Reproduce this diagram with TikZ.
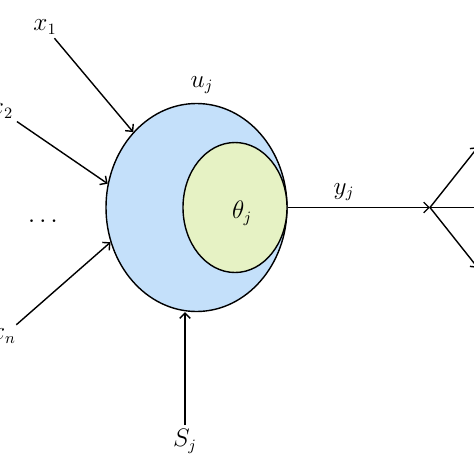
\documentclass[tikz,border=0pt]{standalone}
\usepackage{amsmath}
\usepackage{amssymb}
\usetikzlibrary{shapes.geometric,arrows.meta}
\definecolor{somablue}{RGB}{196,224,250}
\definecolor{threshgreen}{RGB}{230,242,196}

\begin{document}
\begin{tikzpicture}[scale=0.2]
\tikzstyle{every node}+=[inner sep=0pt, font=\fontsize{13.5}{15}\selectfont]
\tikzstyle{lbl}=[inner sep=2pt]
\tikzstyle{syn}=[black, line width=0.8pt, -{Straight Barb[length=3pt,width=6pt]}]
\useasboundingbox (0,0) rectangle (47.4,-47.4);
% cell body and threshold
\node [ellipse, draw, line width=0.8pt, fill=somablue, minimum width=3.62cm, minimum height=4.16cm] (u) at (19.65,-20.75) {};
\node [ellipse, draw, line width=0.8pt, fill=threshgreen, minimum width=2.08cm, minimum height=2.6cm] (th) at (23.5,-20.75) {};
\draw (24.2,-21.3) node (thlab) {$\theta_j$};
\draw (20.2,-8.5) node (ulab) {$u_j$};
% inputs
\draw (4.5,-2.7) node [lbl] (x1) {$x_1$};
\draw (0.15,-11.1) node [lbl] (x2) {$x_2$};
\draw (4.5,-22.2) node (dots) {$\cdots$};
\draw (0.35,-33.6) node [lbl] (xn) {$x_n$};
\draw (18.5,-44.1) node [lbl] (sj) {$S_j$};
\draw [syn] (x1) -- (u.130);
\draw [syn] (x2) -- (u.165);
\draw [syn] (xn) -- (u.202.6);
\draw [syn] (sj.north) -- (sj.north |- u.south);
% output
\coordinate (jn) at (43,-20.75);
\coordinate (o1) at (47.8,-14.7);
\coordinate (o2) at (48.6,-20.75);
\coordinate (o3) at (47.8,-26.8);
\draw [syn] (u.east) -- (jn);
\draw (34.4,-19.2) node (ylab) {$y_j$};
\draw [syn] (jn) -- (o1);
\draw [syn] (jn) -- (o2);
\draw [syn] (jn) -- (o3);
\end{tikzpicture}
\end{document}
